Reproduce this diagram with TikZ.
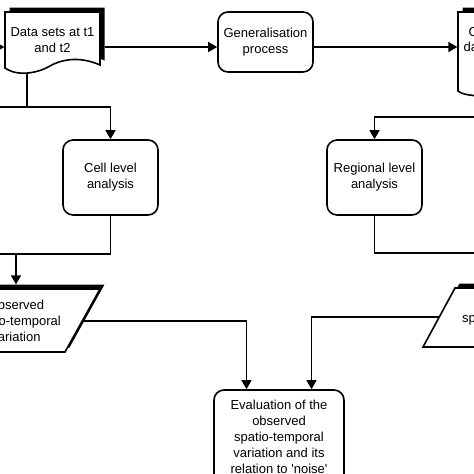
\documentclass[tikz,border=0pt]{standalone}
\usepackage{fontspec}
\setmainfont{Liberation Sans}
\usetikzlibrary{arrows.meta}

\begin{document}
\begin{tikzpicture}[x=1pt, y=-1pt, line width=1.3pt, >={Triangle[length=9pt,width=10pt]}]
    \tikzstyle{box}=[draw, line width=1.6pt, rounded corners=10pt, fill=white, align=center, inner sep=0pt, minimum width=95pt, minimum height=75pt, font=\fontsize{13}{16}\selectfont]
    \tikzstyle{txt}=[align=center, inner sep=0pt, font=\fontsize{13}{16}\selectfont]
    \tikzstyle{sheet}=[draw, line width=1.6pt, fill=white, preaction={fill=black, transform canvas={shift={(4.5pt,4.5pt)}}}]

    \useasboundingbox (0,0) rectangle (474,474);
    \clip (0,0) rectangle (474,474);

    % documents and outputs
    \draw[sheet] (5,12) -- (100,12) -- (100,65) .. controls (82,57) and (64,58) .. (50,66) .. controls (38,73) and (18,77) .. (5,68) -- cycle;
    \draw[sheet] (458,12) -- (520,12) -- (520,100) -- (478,96) .. controls (468,95) and (461,94) .. (458,91) -- cycle;
    \draw[sheet] (-80,289) -- (100,289) -- (65,352) -- (-80,352) -- cycle;
    \draw[sheet] (455,288) -- (540,288) -- (540,347) -- (423,347) -- cycle;

    \node[txt, minimum width=95pt, minimum height=56pt] (data) at (52.5,40) {Data sets at t1\\and t2};
    \node[minimum width=95pt, minimum height=80pt, inner sep=0pt] (coarse) at (505.5,52) {};
    \node[txt, anchor=base west] (coarseA) at (468,36.5) {C};
    \node[txt, anchor=base west] (coarseB) at (463,51.5) {da};
    \node[txt, minimum height=63pt] (obsL) at (16,320.5) {Observed\\spatio-temporal\\variation};
    \node[txt, minimum height=59pt] (obsR) at (507,317.5) {Observed\\spatio-temporal\\variation};

    % processes
    \node[box, minimum height=60pt] (gen) at (265.5,42) {Generalisation\\process};
    \node[box] (cell) at (110.5,177.5) {Cell level\\analysis};
    \node[box] (reg) at (374.5,177.5) {Regional level\\analysis};
    \node[box, minimum width=130pt, minimum height=94pt] (eval) at (279,437) {Evaluation of the\\observed\\spatio-temporal\\variation and its\\relation to \textquotesingle noise\textquotesingle};

    % free ends and joints
    \coordinate (inL) at (-12,47);
    \coordinate (splitL) at (27,107);
    \coordinate (outL) at (-12,107);
    \coordinate (outR) at (486,117);
    \coordinate (outLP) at (-12,254);
    \coordinate (jointL) at (16,254);
    \coordinate (inRP) at (486,253);
    \coordinate (obsLout) at (82,321);
    \coordinate (obsRout) at (439,317);

    % connectors
    \draw[->] (inL) -- ([yshift=-7pt]data.west);
    \draw[->] ([xshift=4pt,yshift=-7pt]data.east) -- ([yshift=-5pt]gen.west);
    \draw[->] ([yshift=-5pt]gen.east) -- ([yshift=5pt]coarse.west);
    \draw[->] ([xshift=-25.5pt,yshift=-5pt]data.south) -- (splitL) -| (cell.north);
    \draw (outL) -- (splitL);
    \draw[->] (outR) -| (reg.north);
    \draw (cell.south) |- (outLP);
    \draw[->] (jointL) -- ([yshift=4pt]obsL.north);
    \draw (reg.south) |- (inRP);
    \draw[->] (obsLout) -| ([xshift=-32.5pt]eval.north);
    \draw[->] (obsRout) -| ([xshift=32.5pt]eval.north);
\end{tikzpicture}
\end{document}
